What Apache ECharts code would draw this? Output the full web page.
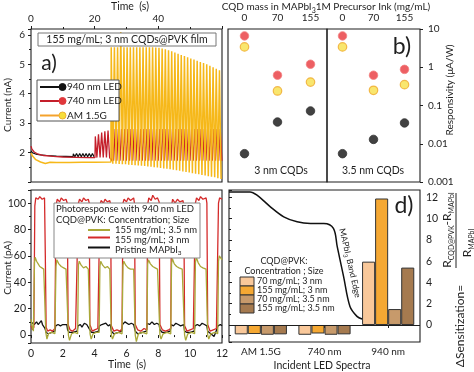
<!DOCTYPE html>
<html><head><meta charset="utf-8">
<script src="https://cdn.jsdelivr.net/npm/echarts@6/dist/echarts.min.js"></script>
<style>html,body{margin:0;padding:0;background:#fff}#c{width:474px;height:372px}</style>
</head><body><div id="c"></div>
<script>
// ---------- Panel a: current vs time (nA) ----------
const aBlackBase = [[0,2.06],[0.5,1.99],[1.5,1.95],[3,1.92],[5,1.9],[8,1.88],[11,1.87],[13.2,1.86]];
const aBlackOn   = [13.3,14.3,15.3,16.3,17.3,18.3,19.3];
const aBlackHigh = [1.96,1.97,1.97,1.97,1.97,1.97,1.97];
const aBlackLow  = [1.86,1.86,1.86,1.86,1.86,1.86,1.86];

const aRedBase = [[0,2.22],[0.3,2.12],[1,2.02],[2,1.96],[4,1.9],[7,1.87],[10,1.85],[14,1.84],[18,1.83],[20.1,1.83]];
const aRedOn   = [20.2,21.2,22.2,23.2,24.2,25.45,26.45,27.45,28.45,29.45,30.45,31.45,32.45,33.45,34.45,35.45,36.45,37.45,38.45,39.45,40.45,41.45,42.45,43.45,44.45,45.45,46.45,47.45,48.45,49.45,50.45,51.45,52.45,53.45,54.45,55.45,56.45,57.45,58.45,59.45];
const aRedHigh = [2.55,2.62,2.68,2.72,2.75,2.8,2.8,2.8,2.8,2.8,2.8,2.8,2.8,2.8,2.8,2.8,2.8,2.8,2.8,2.8,2.8,2.8,2.8,2.8,2.8,2.8,2.8,2.8,2.8,2.8,2.8,2.8,2.8,2.8,2.8,2.8,2.8,2.8,2.8,2.8];
const aRedLow  = [1.83,1.83,1.83,1.83,1.83,1.72,1.72,1.72,1.72,1.72,1.72,1.72,1.72,1.72,1.72,1.72,1.72,1.72,1.72,1.72,1.72,1.72,1.72,1.72,1.72,1.72,1.72,1.72,1.72,1.72,1.72,1.72,1.72,1.72,1.72,1.72,1.72,1.72,1.72,1.72];

const aSunBase = [[0,1.98],[0.5,1.88],[1.5,1.76],[3,1.68],[4.5,1.63],[6,1.67],[8,1.66],[12,1.66],[16,1.67],[20,1.67],[25.1,1.68]];
const aSunOn   = [25.2,26.2,27.2,28.2,29.2,30.2,31.2,32.2,33.2,34.2,35.2,36.2,37.2,38.2,39.2,40.2,41.2,42.2,43.2,44.2,45.2,46.2,47.2,48.2,49.2,50.2,51.2,52.2,53.2,54.2,55.2,56.2,57.2,58.2,59.2];
const aSunHigh = [5.58,5.58,5.58,6.1,5.58,5.58,5.58,5.58,5.58,5.58,5.58,5.58,5.58,5.58,5.57,5.56,5.54,5.51,5.48,5.44,5.4,5.36,5.32,5.28,5.24,5.2,5.16,5.12,5.08,5.04,5.0,4.95,4.9,4.85,4.8];
const aSunLow  = [1.62,1.62,1.61,1.6,1.6,1.59,1.58,1.57,1.56,1.55,1.54,1.53,1.52,1.5,1.49,1.48,1.46,1.45,1.43,1.42,1.4,1.38,1.36,1.34,1.32,1.3,1.28,1.26,1.24,1.22,1.2,1.18,1.16,1.13,1.1];
const aPulseWidth = 0.5;

// ---------- Panel b: responsivity (uA/W) ----------
const bCats = ['0','70','155'];
const b3nm740 = [6.6,0.62,1.2];
const b3nmSun = [3.4,0.24,0.41];
const b3nm940 = [0.0055,0.037,0.072];
const b35nm740 = [6.6,0.62,0.88];
const b35nmSun = [3.4,0.25,0.35];
const b35nm940 = [0.0055,0.013,0.035];

// ---------- Panel c: photoresponse at 940 nm (pA) ----------
const cRed = [[0,7],[0.1,4],[0.18,6],[0.24,98],[0.3,104],[0.45,103],[0.55,105],[0.7,103],[0.85,104],[0.9,60],[0.95,6],[1.05,3],[1.2,4],[1.35,3],[1.5,5],
[1.57,98],[1.65,103],[1.8,101],[1.9,104],[2.05,102],[2.2,103],[2.28,100],[2.33,8],[2.45,4],[2.6,3],[2.8,5],[2.92,4],
[2.98,100],[3.05,103],[3.2,101],[3.3,104],[3.45,102],[3.6,103],[3.66,100],[3.7,8],[3.85,3],[4.0,4],[4.2,5],[4.28,4],
[4.33,98],[4.4,102],[4.55,100],[4.65,103],[4.8,101],[4.95,102],[5.0,99],[5.05,7],[5.2,3],[5.4,4],[5.6,3],[5.72,5],
[5.78,100],[5.85,103],[6.0,101],[6.1,104],[6.25,102],[6.45,104],[6.5,100],[6.55,8],[6.7,4],[6.9,3],[7.1,5],[7.28,4],
[7.33,99],[7.4,104],[7.55,102],[7.65,106],[7.8,103],[7.95,104],[8.05,101],[8.1,8],[8.25,4],[8.45,3],[8.65,4],[8.78,5],
[8.83,98],[8.9,103],[9.05,100],[9.2,103],[9.35,101],[9.55,102],[9.6,98],[9.65,7],[9.8,3],[10.0,4],[10.2,5],[10.28,4],
[10.33,100],[10.4,104],[10.55,102],[10.65,105],[10.8,103],[11.0,104],[11.05,100],[11.1,8],[11.25,3],[11.45,4],[11.65,5],[11.73,4],
[11.78,100],[11.85,104],[12,103]];
const cGreen = [[0,12],[0.08,6],[0.15,3],[0.22,55],[0.26,59],[0.35,56],[0.45,54],[0.55,52],[0.65,53],[0.8,50],[0.88,50],[0.93,2],[1.0,-3],[1.1,1],[1.3,2],[1.5,1],
[1.57,52],[1.62,57],[1.75,54],[1.9,52],[2.05,51],[2.2,50],[2.3,49],[2.35,0],[2.42,-4],[2.55,1],[2.75,2],[2.93,1],
[2.98,53],[3.03,56],[3.15,53],[3.3,51],[3.45,52],[3.6,50],[3.66,50],[3.71,1],[3.78,-3],[3.9,1],[4.1,2],[4.28,2],
[4.33,52],[4.38,56],[4.5,53],[4.65,51],[4.8,52],[4.95,50],[5.0,49],[5.05,0],[5.12,-3],[5.25,1],[5.5,2],[5.72,1],
[5.78,53],[5.83,56],[5.95,53],[6.1,51],[6.25,50],[6.45,50],[6.5,49],[6.55,0],[6.62,-5],[6.75,1],[7.0,2],[7.28,1],
[7.33,54],[7.38,57],[7.5,54],[7.65,52],[7.8,51],[7.95,50],[8.05,50],[8.1,0],[8.17,-3],[8.3,1],[8.55,2],[8.78,1],
[8.83,54],[8.88,58],[9.0,54],[9.15,52],[9.3,51],[9.5,50],[9.6,49],[9.65,0],[9.72,-4],[9.85,1],[10.1,2],[10.28,1],
[10.33,55],[10.38,59],[10.5,55],[10.65,52],[10.8,51],[11.0,50],[11.05,49],[11.1,0],[11.17,-3],[11.3,1],[11.55,2],[11.73,1],
[11.78,56],[11.83,60],[11.95,58],[12,57]];
const cBlack = [[0,10],[0.1,9],[0.2,8],[0.35,10],[0.45,8],[0.55,9],[0.65,11],[0.72,8],[0.8,9],[0.88,5],[0.95,2],[1.1,1],[1.3,2],[1.5,3],
[1.55,7],[1.7,8],[1.85,7],[2.0,8],[2.1,7],[2.25,8],[2.3,4],[2.4,2],[2.6,2],[2.9,3],
[2.95,7],[3.1,8],[3.2,6],[3.35,9],[3.5,8],[3.62,9],[3.7,4],[3.8,2],[4.0,2],[4.25,3],
[4.3,7],[4.45,8],[4.55,7],[4.7,9],[4.85,7],[4.98,8],[5.05,3],[5.2,1],[5.5,2],[5.7,3],
[5.75,8],[5.9,10],[6.0,9],[6.15,8],[6.3,9],[6.45,8],[6.55,3],[6.7,1],[7.0,2],[7.25,3],
[7.3,9],[7.45,8],[7.6,10],[7.75,8],[7.9,9],[8.05,8],[8.1,4],[8.25,2],[8.5,2],[8.75,3],
[8.8,8],[8.95,7],[9.1,9],[9.25,8],[9.4,7],[9.6,8],[9.65,3],[9.8,2],[10.0,2],[10.25,3],
[10.3,7],[10.45,8],[10.6,7],[10.75,9],[10.9,8],[11.05,7],[11.1,3],[11.3,1],[11.5,-1],[11.6,2],[11.7,3],
[11.75,7],[11.9,8],[12,7]];

// ---------- Panel d: sensitization ----------
const dCats = ['AM 1.5G','740 nm','940 nm'];
const d70_3nm   = [-0.88,-0.92,5.96];
const d155_3nm  = [-0.85,-0.8,11.9];
const d70_35nm  = [-0.92,-0.92,1.5];
const d155_35nm = [-0.88,-0.88,5.4];
const dBandEdge = [[0,12.52],[0.33,12.52],[0.44,12.21],[0.65,11.12],[0.86,10.18],[1.07,9.71],[1.28,9.56],[1.49,9.56],[1.64,9.09],[1.70,7.37],[1.80,4.55],[1.90,1.74],[2.01,0.81],[2.09,0.56]];

const FONT = 'Lato';
const INK = '#1e1e1e';

function pulseTrace(base, ons, highs, lows, w) {
  const pts = base.slice();
  for (let i = 0; i < ons.length; i++) {
    pts.push([ons[i], lows[i]], [ons[i], highs[i]], [ons[i] + w, highs[i]], [ons[i] + w, lows[i]]);
  }
  return pts;
}

const chart = echarts.init(document.getElementById('c'), null, {renderer: 'canvas'});
const lbl = (extra) => Object.assign({color: INK, fontFamily: FONT, fontSize: 10}, extra || {});
const gridBox = {show: true, borderColor: INK, borderWidth: 1.1, backgroundColor: 'transparent', containLabel: false};
const fmtLog = v => String(parseFloat(Number(v).toPrecision(3)));

function T(x, y, text, o) {
  o = o || {};
  const el = {type: 'text', x: x, y: y, z: 100, silent: true,
    style: {text: text, fill: o.fill || INK, font: (o.weight || 'normal') + ' ' + (o.size || 10) + 'px ' + FONT,
      align: o.align || 'center', verticalAlign: 'middle', rich: o.rich}};
  if (o.rot) el.rotation = o.rot;
  return el;
}
function R(x, y, w, h, fill, stroke, lw) {
  return {type: 'rect', z: 100, silent: true, shape: {x: x, y: y, width: w, height: h}, style: {fill: fill, stroke: stroke, lineWidth: lw || 1}};
}
function L(x1, y1, x2, y2, color, lw) {
  return {type: 'line', z: 101, silent: true, shape: {x1: x1, y1: y1, x2: x2, y2: y2}, style: {stroke: color, lineWidth: lw || 2}};
}
function C(cx, cy, r, fill, stroke) {
  return {type: 'circle', z: 102, silent: true, shape: {cx: cx, cy: cy, r: r}, style: {fill: fill, stroke: stroke || fill, lineWidth: 1}};
}

const subRich = {
  n: {fontSize: 10, fontFamily: FONT, lineHeight: 14, fill: INK},
  s: {fontSize: 7, fontFamily: FONT, verticalAlign: 'bottom', lineHeight: 9, fill: INK}
};
const bigRich = {
  r: {fontSize: 12, fontFamily: FONT, lineHeight: 16},
  s: {fontSize: 7, fontFamily: FONT, verticalAlign: 'bottom', lineHeight: 8}
};

const COL = {
  aBlack: '#111111', aRed: '#C41E2A', aRedDot: '#E0383C', aSun: '#F6B819', aSunLeg: '#F4A22C', aSunDot: '#F6DE3A',
  bRed: '#E8373C', bRedEdge: '#F28080', bSun: '#F8E04A', bSunEdge: '#EFA92A',
  cRed: '#D42A2A', cGreen: '#AAA838',
  d1: '#F9C89A', d2: '#F5A833', d3: '#C79A6B', d4: '#A57A4F'
};

const option = {
  animation: false,
  backgroundColor: '#fff',
  grid: [
    Object.assign({left: 31, top: 29, width: 191, height: 153}, gridBox),
    Object.assign({left: 228, top: 29, width: 99, height: 153}, gridBox),
    Object.assign({left: 327, top: 29, width: 93, height: 153}, gridBox),
    Object.assign({left: 31, top: 190, width: 191, height: 153}, gridBox),
    Object.assign({left: 229, top: 190, width: 191, height: 152}, gridBox)
  ],
  xAxis: [
    {gridIndex: 0, type: 'value', position: 'top', min: 0, max: 60, interval: 20,
      axisLine: {show: false}, splitLine: {show: false},
      axisTick: {show: true, inside: false, length: 3, lineStyle: {color: INK}},
      minorTick: {show: true, splitNumber: 2, length: 2, lineStyle: {color: INK}},
      axisLabel: lbl({margin: 5, showMaxLabel: false})},
    {gridIndex: 1, type: 'category', position: 'top', data: bCats, boundaryGap: true,
      axisLine: {show: false}, axisTick: {show: false}, axisLabel: lbl({margin: 6, interval: 0})},
    {gridIndex: 2, type: 'category', position: 'top', data: bCats, boundaryGap: true,
      axisLine: {show: false}, axisTick: {show: false}, axisLabel: lbl({margin: 6, interval: 0})},
    {gridIndex: 3, type: 'value', position: 'bottom', min: 0, max: 12, interval: 2,
      axisLine: {show: false}, splitLine: {show: false},
      axisTick: {show: true, inside: false, length: 3, lineStyle: {color: INK}},
      minorTick: {show: true, splitNumber: 2, length: 2, lineStyle: {color: INK}},
      axisLabel: lbl({margin: 5, fontSize: 10.5})},
    {gridIndex: 4, type: 'category', position: 'bottom', data: dCats, boundaryGap: true,
      axisLine: {show: false},
      axisTick: {show: true, alignWithLabel: true, inside: false, length: 3, lineStyle: {color: INK}},
      axisLabel: lbl({margin: 5, interval: 0, fontSize: 10})},
    {gridIndex: 4, type: 'value', min: 0, max: 3, show: false}
  ],
  yAxis: [
    {gridIndex: 0, type: 'value', min: 1, max: 6.2, interval: 1,
      axisLine: {show: false}, splitLine: {show: false},
      axisTick: {show: true, inside: false, length: 3, lineStyle: {color: INK}},
      minorTick: {show: true, splitNumber: 2, length: 2, lineStyle: {color: INK}},
      axisLabel: lbl({margin: 6, showMinLabel: false, showMaxLabel: false})},
    {gridIndex: 1, type: 'log', min: 0.001, max: 10, logBase: 10, show: false},
    {gridIndex: 2, type: 'log', min: 0.001, max: 10, logBase: 10, position: 'right',
      axisLine: {show: false}, splitLine: {show: false},
      axisTick: {show: true, inside: false, length: 3, lineStyle: {color: INK}},
      axisLabel: lbl({margin: 8, formatter: fmtLog})},
    {gridIndex: 3, type: 'value', min: -6, max: 110, splitNumber: 6,
      axisLine: {show: false}, splitLine: {show: false},
      axisTick: {show: true, inside: false, length: 3, lineStyle: {color: INK}},
      minorTick: {show: true, splitNumber: 2, length: 2, lineStyle: {color: INK}},
      axisLabel: lbl({margin: 5, showMinLabel: false, showMaxLabel: false, fontSize: 10.5})},
    {gridIndex: 4, type: 'value', min: -1.6, max: 12.7, splitNumber: 7, position: 'right',
      axisLine: {show: false}, splitLine: {show: false},
      axisTick: {show: true, inside: false, length: 3, lineStyle: {color: INK}},
      minorTick: {show: true, splitNumber: 2, length: 2, lineStyle: {color: INK}},
      axisLabel: lbl({margin: 6, showMinLabel: false, showMaxLabel: false, fontSize: 10.5})}
  ],
  series: [
    // panel a
    {type: 'line', xAxisIndex: 0, yAxisIndex: 0, symbol: 'none', z: 2,
      data: pulseTrace(aBlackBase, aBlackOn, aBlackHigh, aBlackLow, aPulseWidth), lineStyle: {color: COL.aBlack, width: 1.2}},
    {type: 'line', xAxisIndex: 0, yAxisIndex: 0, symbol: 'none', z: 3,
      data: pulseTrace(aRedBase, aRedOn, aRedHigh, aRedLow, aPulseWidth), lineStyle: {color: COL.aRed, width: 1.3}},
    {type: 'line', xAxisIndex: 0, yAxisIndex: 0, symbol: 'none', z: 4,
      data: pulseTrace(aSunBase, aSunOn, aSunHigh, aSunLow, aPulseWidth), lineStyle: {color: COL.aSun, width: 1.5}},
    // panel b (3 nm)
    {type: 'scatter', xAxisIndex: 1, yAxisIndex: 1, symbolSize: 8.5, data: b3nm740, itemStyle: {color: COL.bRed, borderColor: COL.bRedEdge, borderWidth: 1}},
    {type: 'scatter', xAxisIndex: 1, yAxisIndex: 1, symbolSize: 8.5, data: b3nmSun, itemStyle: {color: COL.bSun, borderColor: COL.bSunEdge, borderWidth: 1.2}},
    {type: 'scatter', xAxisIndex: 1, yAxisIndex: 1, symbolSize: 8.5, data: b3nm940, itemStyle: {color: '#111', borderColor: '#333', borderWidth: 1}},
    // panel b (3.5 nm)
    {type: 'scatter', xAxisIndex: 2, yAxisIndex: 2, symbolSize: 8.5, data: b35nm740, itemStyle: {color: COL.bRed, borderColor: COL.bRedEdge, borderWidth: 1}},
    {type: 'scatter', xAxisIndex: 2, yAxisIndex: 2, symbolSize: 8.5, data: b35nmSun, itemStyle: {color: COL.bSun, borderColor: COL.bSunEdge, borderWidth: 1.2}},
    {type: 'scatter', xAxisIndex: 2, yAxisIndex: 2, symbolSize: 8.5, data: b35nm940, itemStyle: {color: '#111', borderColor: '#333', borderWidth: 1}},
    // panel c
    {type: 'line', xAxisIndex: 3, yAxisIndex: 3, symbol: 'none', z: 2, data: cBlack, lineStyle: {color: '#111', width: 1.3}},
    {type: 'line', xAxisIndex: 3, yAxisIndex: 3, symbol: 'none', z: 3, data: cRed, lineStyle: {color: COL.cRed, width: 1.3}},
    {type: 'line', xAxisIndex: 3, yAxisIndex: 3, symbol: 'none', z: 4, data: cGreen, lineStyle: {color: COL.cGreen, width: 1.3}},
    // panel d
    {type: 'bar', xAxisIndex: 4, yAxisIndex: 4, data: d70_3nm, barGap: '0%', barCategoryGap: '18%',
      itemStyle: {color: COL.d1, borderColor: '#333', borderWidth: 1},
      markLine: {silent: true, symbol: 'none', label: {show: false}, lineStyle: {color: INK, width: 1, type: 'solid'}, data: [{yAxis: 0}]}},
    {type: 'bar', xAxisIndex: 4, yAxisIndex: 4, data: d155_3nm, itemStyle: {color: COL.d2, borderColor: '#333', borderWidth: 1}},
    {type: 'bar', xAxisIndex: 4, yAxisIndex: 4, data: d70_35nm, itemStyle: {color: COL.d3, borderColor: '#333', borderWidth: 1}},
    {type: 'bar', xAxisIndex: 4, yAxisIndex: 4, data: d155_35nm, itemStyle: {color: COL.d4, borderColor: '#333', borderWidth: 1}},
    {type: 'line', xAxisIndex: 5, yAxisIndex: 4, symbol: 'none', smooth: 0.35, data: dBandEdge, lineStyle: {color: '#111', width: 1.5}}
  ],
  graphic: [
    // axis titles
    T(130, 7, 'Time  (s)', {size: 10.5}),
    T(326, 7, '{n|CQD mass in MAPbI}{s|3}{n|1M Precursor Ink (mg/mL)}', {rich: subRich}),
    T(8, 105, 'Current (nA)', {rot: Math.PI / 2, size: 10}),
    T(450, 90, 'Responsivity (μA/W)', {rot: Math.PI / 2, size: 10}),
    T(8, 268, 'Current (pA)', {rot: Math.PI / 2, size: 10}),
    T(127, 365, 'Time  (s)', {size: 10.5}),
    T(322, 366, 'Incident LED Spectra', {size: 10.5}),
    // panel labels
    T(49, 63, 'a)', {size: 21}),
    T(402, 47, 'b)', {size: 23}),
    T(70, 240, 'c)', {size: 21}),
    T(404, 206, 'd)', {size: 23}),
    // panel a title box
    R(38, 33, 178, 13, '#fff', '#777', 1),
    T(127, 39.5, '155 mg/mL; 3 nm CQDs@PVK film', {size: 10.5}),
    // panel a legend
    R(37, 80, 82, 41, '#fff', '#555', 1),
    L(40, 87, 60, 87, COL.aBlack, 2), C(62.5, 87, 3.5, '#111'), T(67, 87, '940 nm LED', {align: 'left', size: 10}),
    L(40, 101, 60, 101, COL.aRed, 2), C(62.5, 101, 3.5, COL.aRedDot), T(67, 101, '740 nm LED', {align: 'left', size: 10}),
    L(40, 115.5, 60, 115.5, COL.aSunLeg, 2), C(62.5, 115.5, 3.5, COL.aSunDot, '#F0B030'), T(67, 115.5, 'AM 1.5G', {align: 'left', size: 10}),
    // panel b captions
    T(281, 171, '3 nm CQDs', {size: 10.5}),
    T(373, 171, '3.5 nm CQDs', {size: 10.5}),
    // panel c legend
    R(54, 203, 146, 55, '#fff', '#888', 1),
    T(56, 208.5, 'Photoresponse with 940 nm LED', {align: 'left', size: 9.5}),
    T(56, 219.5, 'CQD@PVK: Concentration; Size', {align: 'left', size: 9.5}),
    L(88, 230, 110, 230, COL.cGreen, 2), T(115, 230, '155 mg/mL; 3.5 nm', {align: 'left', size: 9.5}),
    L(88, 237.5, 110, 237.5, COL.cRed, 2), T(115, 239.5, '155 mg/mL; 3 nm', {align: 'left', size: 9.5}),
    L(88, 247.5, 110, 247.5, '#111', 2),
    T(115, 249.5, '{n|Pristine MAPbI}{s|3}', {align: 'left', rich: {n: {fontSize: 9.5, fontFamily: FONT, lineHeight: 13}, s: {fontSize: 6.5, fontFamily: FONT, verticalAlign: 'bottom', lineHeight: 8}}}),
    // panel d legend
    T(284, 261, 'CQD@PVK:', {size: 9}),
    T(284, 271, 'Concentration ; Size', {size: 9}),
    R(240, 277, 14, 9, COL.d1, '#333', 1), T(257, 281.5, '70 mg/mL; 3 nm', {align: 'left', size: 9}),
    R(240, 286, 14, 9, COL.d2, '#333', 1), T(257, 290.5, '155 mg/mL; 3 nm', {align: 'left', size: 9}),
    R(240, 295, 14, 9, COL.d3, '#333', 1), T(257, 299.5, '70 mg/mL; 3.5 nm', {align: 'left', size: 9}),
    R(240, 304, 14, 9, COL.d4, '#333', 1), T(257, 308.5, '155 mg/mL; 3.5 nm', {align: 'left', size: 9}),
    // band edge annotation
    T(350, 263, '{n|MAPbI}{s|3}{n| Band Edge}', {rot: -77 * Math.PI / 180, rich: {n: {fontSize: 8.5, fontFamily: FONT, lineHeight: 12}, s: {fontSize: 6, fontFamily: FONT, verticalAlign: 'bottom', lineHeight: 7}}}),
    // right axis title of d
    T(460, 326, 'ΔSensitization=', {rot: Math.PI / 2, size: 12}),
    T(447, 230, '{r|R}{s|CQD@PVK}{r|-R}{s|MAPbI}', {rot: Math.PI / 2, rich: bigRich}),
    L(456, 193, 456, 268, '#222', 1),
    T(467, 243, '{r|R}{s|MAPbI}', {rot: Math.PI / 2, rich: bigRich})
  ]
};
chart.setOption(option);
</script>
</body></html>
